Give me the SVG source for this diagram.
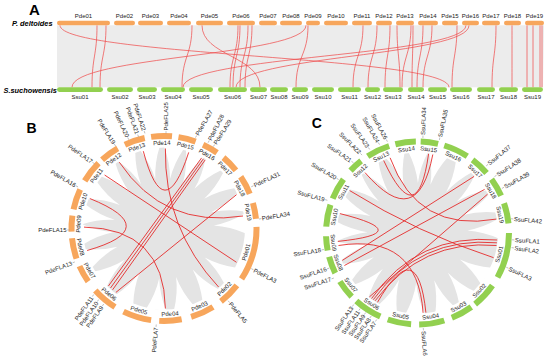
<svg xmlns="http://www.w3.org/2000/svg" xmlns:xlink="http://www.w3.org/1999/xlink" width="550" height="360" viewBox="0 0 550 360">
<style>
text{font-family:"Liberation Sans",Arial,sans-serif;fill:#222}
.lb{font-size:6px;text-anchor:middle}
.g{font-size:6px}
.e{text-anchor:end}
.pl{font-size:14px;font-weight:bold;fill:#000}
.sp{font-size:7.4px;font-weight:bold;font-style:italic;fill:#000}
.bo{fill:#f7a65c}
.bg{fill:#92d050}
.ra{fill:none;stroke:#ef4a4a;stroke-width:0.8;opacity:0.9}
.rl{fill:none;stroke:#e52b2b;stroke-width:0.9}
.ro{fill:none;stroke:#f7a65c;stroke-width:6}
.rg{fill:none;stroke:#92d050;stroke-width:6}
.tk{stroke:#888;stroke-width:0.5}
</style>
<defs>
<path id="wg" d="M-10,-81.5 Q-2,-66 0,-50 Q2,-66 10,-81.5 Z" fill="#fff"/>
</defs>
<rect width="550" height="360" fill="#fff"/>

<!-- Panel A -->
<text class="pl" x="29" y="15" style="font-size:15px">A</text>
<text class="sp" x="12" y="26">P. deltoides</text>
<text class="sp" x="3.5" y="93">S.suchowensis</text>
<polygon points="57,25.3 544,25.3 543,87.3 57,87.3" fill="#ececec"/>
<g id="linksA">
<path class="ra" d="M97,25.3 C97,56 92,56 92,87.3"/>
<path class="ra" d="M106,25.3 C106,56 100,56 100,87.3"/>
<path class="ra" d="M60,25.3 C60,56 449,56 449,87.3"/>
<path class="ra" d="M192,25.3 C192,56 182,56 182,87.3"/>
<path class="ra" d="M202,25.3 C202,56 260,56 260,87.3"/>
<path class="ra" d="M238,25.3 C238,56 230,56 230,87.3"/>
<path class="ra" d="M240,25.3 C240,56 233,56 233,87.3"/>
<path class="ra" d="M248,25.3 C248,56 240,56 240,87.3"/>
<path class="ra" d="M252,25.3 C252,56 245,56 245,87.3"/>
<path class="ra" d="M306,25.3 C306,56 72,56 72,87.3"/>
<path class="ra" d="M308,25.3 C308,56 296,56 296,87.3"/>
<path class="ra" d="M466,25.3 C466,56 183,56 183,87.3"/>
<path class="ra" d="M469,25.3 C469,56 236,56 236,87.3"/>
<path class="ra" d="M363,25.3 C363,56 353,56 353,87.3"/>
<path class="ra" d="M377,25.3 C377,56 368,56 368,87.3"/>
<path class="ra" d="M390,25.3 C390,56 385,56 385,87.3"/>
<path class="ra" d="M397,25.3 C397,56 400,56 400,87.3"/>
<path class="ra" d="M411,25.3 C411,56 402,56 402,87.3"/>
<path class="ra" d="M413,25.3 C413,56 412,56 412,87.3"/>
<path class="ra" d="M423,25.3 C423,56 417,56 417,87.3"/>
<path class="ra" d="M432,25.3 C432,56 423,56 423,87.3"/>
<path class="ra" d="M457,25.3 C457,56 452,56 452,87.3"/>
<path class="ra" d="M496,25.3 C496,56 492,56 492,87.3"/>
<path class="ra" d="M512,25.3 C512,56 512,56 512,87.3"/>
<path class="ra" d="M527,25.3 L527,87.3"/>
<path class="ra" d="M533,25.3 L533,87.3"/>
<path class="ra" d="M540,25.3 L540,87.3"/>
<path class="ra" d="M542,25.3 L542,87.3"/>
</g>
<g id="pde01"><rect class="bo" x="57" y="20.7" width="53" height="4.6" rx="2.3"/><text class="lb" x="83.5" y="18.3">Pde01</text></g>
<g id="pde02"><rect class="bo" x="114" y="20.7" width="21" height="4.6" rx="2.3"/><text class="lb" x="124.5" y="18.3">Pde02</text></g>
<g id="pde03"><rect class="bo" x="138" y="20.7" width="25" height="4.6" rx="2.3"/><text class="lb" x="150.5" y="18.3">Pde03</text></g>
<g id="pde04"><rect class="bo" x="167" y="20.7" width="24" height="4.6" rx="2.3"/><text class="lb" x="179" y="18.3">Pde04</text></g>
<g id="pde05"><rect class="bo" x="196" y="20.7" width="27" height="4.6" rx="2.3"/><text class="lb" x="209.5" y="18.3">Pde05</text></g>
<g id="pde06"><rect class="bo" x="227" y="20.7" width="28" height="4.6" rx="2.3"/><text class="lb" x="241" y="18.3">Pde06</text></g>
<g id="pde07"><rect class="bo" x="259" y="20.7" width="18" height="4.6" rx="2.3"/><text class="lb" x="268" y="18.3">Pde07</text></g>
<g id="pde08"><rect class="bo" x="280" y="20.7" width="22" height="4.6" rx="2.3"/><text class="lb" x="291" y="18.3">Pde08</text></g>
<g id="pde09"><rect class="bo" x="306" y="20.7" width="14" height="4.6" rx="2.3"/><text class="lb" x="313" y="18.3">Pde09</text></g>
<g id="pde10"><rect class="bo" x="324" y="20.7" width="24" height="4.6" rx="2.3"/><text class="lb" x="336" y="18.3">Pde10</text></g>
<g id="pde11"><rect class="bo" x="352" y="20.7" width="20" height="4.6" rx="2.3"/><text class="lb" x="362" y="18.3">Pde11</text></g>
<g id="pde12"><rect class="bo" x="376" y="20.7" width="16" height="4.6" rx="2.3"/><text class="lb" x="384" y="18.3">Pde12</text></g>
<g id="pde13"><rect class="bo" x="396" y="20.7" width="18" height="4.6" rx="2.3"/><text class="lb" x="405" y="18.3">Pde13</text></g>
<g id="pde14"><rect class="bo" x="418" y="20.7" width="20" height="4.6" rx="2.3"/><text class="lb" x="428" y="18.3">Pde14</text></g>
<g id="pde15"><rect class="bo" x="442" y="20.7" width="16" height="4.6" rx="2.3"/><text class="lb" x="450" y="18.3">Pde15</text></g>
<g id="pde16"><rect class="bo" x="462" y="20.7" width="17" height="4.6" rx="2.3"/><text class="lb" x="470.5" y="18.3">Pde16</text></g>
<g id="pde17"><rect class="bo" x="482" y="20.7" width="18" height="4.6" rx="2.3"/><text class="lb" x="491" y="18.3">Pde17</text></g>
<g id="pde18"><rect class="bo" x="504" y="20.7" width="17" height="4.6" rx="2.3"/><text class="lb" x="512.5" y="18.3">Pde18</text></g>
<g id="pde19"><rect class="bo" x="525" y="20.7" width="19" height="4.6" rx="2.3"/><text class="lb" x="534.5" y="18.3">Pde19</text></g>

<g id="ssu01"><rect class="bg" x="57" y="87.3" width="46" height="4.6" rx="2.3"/><text class="lb" x="80" y="98.6">Ssu01</text></g>
<g id="ssu02"><rect class="bg" x="107" y="87.3" width="26" height="4.6" rx="2.3"/><text class="lb" x="120" y="98.6">Ssu02</text></g>
<g id="ssu03"><rect class="bg" x="137" y="87.3" width="20" height="4.6" rx="2.3"/><text class="lb" x="147" y="98.6">Ssu03</text></g>
<g id="ssu04"><rect class="bg" x="161" y="87.3" width="24" height="4.6" rx="2.3"/><text class="lb" x="173" y="98.6">Ssu04</text></g>
<g id="ssu05"><rect class="bg" x="189" y="87.3" width="24" height="4.6" rx="2.3"/><text class="lb" x="201" y="98.6">Ssu05</text></g>
<g id="ssu06"><rect class="bg" x="218" y="87.3" width="29" height="4.6" rx="2.3"/><text class="lb" x="232.5" y="98.6">Ssu06</text></g>
<g id="ssu07"><rect class="bg" x="250" y="87.3" width="17" height="4.6" rx="2.3"/><text class="lb" x="258.5" y="98.6">Ssu07</text></g>
<g id="ssu08"><rect class="bg" x="270" y="87.3" width="18" height="4.6" rx="2.3"/><text class="lb" x="279" y="98.6">Ssu08</text></g>
<g id="ssu09"><rect class="bg" x="292" y="87.3" width="16" height="4.6" rx="2.3"/><text class="lb" x="300" y="98.6">Ssu09</text></g>
<g id="ssu10"><rect class="bg" x="312" y="87.3" width="22" height="4.6" rx="2.3"/><text class="lb" x="323" y="98.6">Ssu10</text></g>
<g id="ssu11"><rect class="bg" x="338" y="87.3" width="23" height="4.6" rx="2.3"/><text class="lb" x="349.5" y="98.6">Ssu11</text></g>
<g id="ssu12"><rect class="bg" x="365" y="87.3" width="15" height="4.6" rx="2.3"/><text class="lb" x="372.5" y="98.6">Ssu12</text></g>
<g id="ssu13"><rect class="bg" x="383" y="87.3" width="20" height="4.6" rx="2.3"/><text class="lb" x="393" y="98.6">Ssu13</text></g>
<g id="ssu14"><rect class="bg" x="408" y="87.3" width="16" height="4.6" rx="2.3"/><text class="lb" x="416" y="98.6">Ssu14</text></g>
<g id="ssu15"><rect class="bg" x="428" y="87.3" width="19" height="4.6" rx="2.3"/><text class="lb" x="437.5" y="98.6">Ssu15</text></g>
<g id="ssu16"><rect class="bg" x="450" y="87.3" width="22" height="4.6" rx="2.3"/><text class="lb" x="461" y="98.6">Ssu16</text></g>
<g id="ssu17"><rect class="bg" x="477" y="87.3" width="18" height="4.6" rx="2.3"/><text class="lb" x="486" y="98.6">Ssu17</text></g>
<g id="ssu18"><rect class="bg" x="499" y="87.3" width="19" height="4.6" rx="2.3"/><text class="lb" x="508.5" y="98.6">Ssu18</text></g>
<g id="ssu19"><rect class="bg" x="522" y="87.3" width="21" height="4.6" rx="2.3"/><text class="lb" x="532.5" y="98.6">Ssu19</text></g>

<!-- Panel B -->
<text class="pl" x="26.5" y="133.3">B</text>
<circle cx="164" cy="228.5" r="81" fill="#e4e4e4"/>
<g transform="translate(164 228.5)">
<use xlink:href="#wg" transform="rotate(86.5)"/><use xlink:href="#wg" transform="rotate(125.5)"/><use xlink:href="#wg" transform="rotate(145)"/><use xlink:href="#wg" transform="rotate(166)"/><use xlink:href="#wg" transform="rotate(185.5)"/><use xlink:href="#wg" transform="rotate(209)"/><use xlink:href="#wg" transform="rotate(231.5)"/><use xlink:href="#wg" transform="rotate(248.5)"/><use xlink:href="#wg" transform="rotate(266)"/><use xlink:href="#wg" transform="rotate(280)"/><use xlink:href="#wg" transform="rotate(298)"/><use xlink:href="#wg" transform="rotate(316.5)"/><use xlink:href="#wg" transform="rotate(332.5)"/><use xlink:href="#wg" transform="rotate(350)"/><use xlink:href="#wg" transform="rotate(7)"/><use xlink:href="#wg" transform="rotate(22.5)"/><use xlink:href="#wg" transform="rotate(37.5)"/><use xlink:href="#wg" transform="rotate(53.5)"/><use xlink:href="#wg" transform="rotate(71)"/>
</g>
<g id="linksB">
<path class="rl" d="M143.3,151.2 Q164,228.5 188.7,152.4"/>
<path class="rl" d="M119.3,162.2 Q164,228.5 243,216"/>
<path class="rl" d="M104.6,175 L236.5,262.3"/>
<path class="rl" d="M89.8,198.5 Q164,228.5 87.1,250.5"/>
<path class="rl" d="M84,227.1 Q164,228.5 165.4,308.5"/>
<path class="rl" d="M165.4,148.5 Q164,228.5 218.6,287"/>
<path class="rl" d="M201.6,157.9 L108.4,286"/>
<path class="rl" d="M203.4,158.9 L110.5,288"/>
<path class="rl" d="M205.2,159.9 L112.6,289.8"/>
<path class="rl" d="M236.5,194.7 L115.9,292.4"/>
</g>
<g id="B-Pde01"><circle class="ro" cx="164" cy="228.5" r="92.5" stroke-dasharray="54.89 600" transform="rotate(-1 164 228.5)"/><text class="lb" dominant-baseline="central" transform="translate(246.2 252.1) rotate(-74)">Pde01</text></g>
<g id="B-Pde02"><circle class="ro" cx="164" cy="228.5" r="92.5" stroke-dasharray="22.6 600" transform="rotate(38 164 228.5)"/><text class="lb" dominant-baseline="central" transform="translate(224.5 288.9) rotate(-45)">Pde02</text></g>
<g id="B-Pde03"><circle class="ro" cx="164" cy="228.5" r="92.5" stroke-dasharray="24.22 600" transform="rotate(58 164 228.5)"/><text class="lb" dominant-baseline="central" transform="translate(199.5 306.3) rotate(-24.5)">Pde03</text></g>
<g id="B-Pde04"><circle class="ro" cx="164" cy="228.5" r="92.5" stroke-dasharray="22.6 600" transform="rotate(79 164 228.5)"/><text class="lb" dominant-baseline="central" transform="translate(170 313.8) rotate(-4)">Pde04</text></g>
<g id="B-Pde05"><circle class="ro" cx="164" cy="228.5" r="92.5" stroke-dasharray="29.06 600" transform="rotate(98 164 228.5)"/><text class="lb" dominant-baseline="central" transform="translate(139 310.3) rotate(17)">Pde05</text></g>
<g id="B-Pde06"><circle class="ro" cx="164" cy="228.5" r="92.5" stroke-dasharray="25.83 600" transform="rotate(122 164 228.5)"/><text class="lb" dominant-baseline="central" transform="translate(109 294) rotate(40)">Pde06</text></g>
<g id="B-Pde07"><circle class="ro" cx="164" cy="228.5" r="92.5" stroke-dasharray="17.76 600" transform="rotate(145 164 228.5)"/><text class="lb" dominant-baseline="central" transform="translate(89.6 270.6) rotate(60.5)">Pde07</text></g>
<g id="B-Pde08"><circle class="ro" cx="164" cy="228.5" r="92.5" stroke-dasharray="20.99 600" transform="rotate(161 164 228.5)"/><text class="lb" dominant-baseline="central" transform="translate(80.5 247) rotate(77.5)">Pde08</text></g>
<g id="B-Pde09"><circle class="ro" cx="164" cy="228.5" r="92.5" stroke-dasharray="16.14 600" transform="rotate(178 164 228.5)"/><text class="lb" dominant-baseline="central" transform="translate(78.6 224) rotate(-87)">Pde09</text></g>
<g id="B-Pde10"><circle class="ro" cx="164" cy="228.5" r="92.5" stroke-dasharray="20.99 600" transform="rotate(192 164 228.5)"/><text class="lb" dominant-baseline="central" transform="translate(83 201.4) rotate(-71.5)">Pde10</text></g>
<g id="B-Pde11"><circle class="ro" cx="164" cy="228.5" r="92.5" stroke-dasharray="22.6 600" transform="rotate(211 164 228.5)"/><text class="lb" dominant-baseline="central" transform="translate(96.6 175.9) rotate(-52)">Pde11</text></g>
<g id="B-Pde12"><circle class="ro" cx="164" cy="228.5" r="92.5" stroke-dasharray="19.37 600" transform="rotate(228 164 228.5)"/><text class="lb" dominant-baseline="central" transform="translate(113.7 159.3) rotate(-36)">Pde12</text></g>
<g id="B-Pde13"><circle class="ro" cx="164" cy="228.5" r="92.5" stroke-dasharray="20.99 600" transform="rotate(245 164 228.5)"/><text class="lb" dominant-baseline="central" transform="translate(136.9 147.4) rotate(-18.5)">Pde13</text></g>
<g id="B-Pde14"><circle class="ro" cx="164" cy="228.5" r="92.5" stroke-dasharray="20.99 600" transform="rotate(262 164 228.5)"/><text class="lb" dominant-baseline="central" transform="translate(161.8 143) rotate(-1.5)">Pde14</text></g>
<g id="B-Pde15"><circle class="ro" cx="164" cy="228.5" r="92.5" stroke-dasharray="17.76 600" transform="rotate(-81 164 228.5)"/><text class="lb" dominant-baseline="central" transform="translate(185.4 145.7) rotate(14.5)">Pde15</text></g>
<g id="B-Pde16"><circle class="ro" cx="164" cy="228.5" r="92.5" stroke-dasharray="16.14 600" transform="rotate(-65 164 228.5)"/><text class="lb" dominant-baseline="central" transform="translate(206.8 154.5) rotate(30)">Pde16</text></g>
<g id="B-Pde17"><circle class="ro" cx="164" cy="228.5" r="92.5" stroke-dasharray="17.76 600" transform="rotate(-50 164 228.5)"/><text class="lb" dominant-baseline="central" transform="translate(225 168.6) rotate(45.5)">Pde17</text></g>
<g id="B-Pde18"><circle class="ro" cx="164" cy="228.5" r="92.5" stroke-dasharray="19.37 600" transform="rotate(-34 164 228.5)"/><text class="lb" dominant-baseline="central" transform="translate(239.5 188.4) rotate(62)">Pde18</text></g>
<g id="B-Pde19"><circle class="ro" cx="164" cy="228.5" r="92.5" stroke-dasharray="16.14 600" transform="rotate(-16 164 228.5)"/><text class="lb" dominant-baseline="central" transform="translate(248 212.2) rotate(79)">Pde19</text></g>

<g id="genesB">
<g transform="translate(166 130.5) rotate(-90)"><line class="tk" x1="-3" x2="-0.6"/><text class="g" dy="2.1">PdeFLA25</text></g>
<g transform="translate(197 135) rotate(-60)"><line class="tk" x1="-3" x2="-0.6"/><text class="g" dy="2.1">PdeFLA27</text></g>
<g transform="translate(209.5 140) rotate(-63)"><line class="tk" x1="-3" x2="-0.6"/><text class="g" dy="2.1">PdeFLA28</text></g>
<g transform="translate(215 144) rotate(-58)"><line class="tk" x1="-3" x2="-0.6"/><text class="g" dy="2.1">PdeFLA29</text></g>
<g transform="translate(254 185.5) rotate(-25)"><line class="tk" x1="-3" x2="-0.6"/><text class="g" dy="2.1">PdeFLA31</text></g>
<g transform="translate(262 218.5) rotate(-10)"><line class="tk" x1="-3" x2="-0.6"/><text class="g" dy="2.1">PdeFLA34</text></g>
<g transform="translate(254 270) rotate(27)"><line class="tk" x1="-3" x2="-0.6"/><text class="g" dy="2.1">PdeFLA3</text></g>
<g transform="translate(230 303) rotate(50)"><line class="tk" x1="-3" x2="-0.6"/><text class="g" dy="2.1">PdeFLA5</text></g>
<g transform="translate(156 327.5) rotate(-85)"><line class="tk" x1="0.6" x2="3"/><text class="g e" dy="2.1">PdeFLA7</text></g>
<g transform="translate(102 306.5) rotate(-55)"><line class="tk" x1="0.6" x2="3"/><text class="g e" dy="2.1">PdeFLA9</text></g>
<g transform="translate(97 302) rotate(-55)"><line class="tk" x1="0.6" x2="3"/><text class="g e" dy="2.1">PdeFLA10</text></g>
<g transform="translate(92 297) rotate(-55)"><line class="tk" x1="0.6" x2="3"/><text class="g e" dy="2.1">PdeFLA11</text></g>
<g transform="translate(72 263) rotate(-20)"><line class="tk" x1="0.6" x2="3"/><text class="g e" dy="2.1">PdeFLA13</text></g>
<g transform="translate(66.5 230) rotate(0)"><line class="tk" x1="0.6" x2="3"/><text class="g e" dy="2.1">PdeFLA15</text></g>
<g transform="translate(75.5 185.5) rotate(30)"><line class="tk" x1="0.6" x2="3"/><text class="g e" dy="2.1">PdeFLA16</text></g>
<g transform="translate(92 162) rotate(35)"><line class="tk" x1="0.6" x2="3"/><text class="g e" dy="2.1">PdeFLA17</text></g>
<g transform="translate(114 143.5) rotate(58)"><line class="tk" x1="0.6" x2="3"/><text class="g e" dy="2.1">PdeFLA19</text></g>
<g transform="translate(127.5 137) rotate(65)"><line class="tk" x1="0.6" x2="3"/><text class="g e" dy="2.1">PdeFLA20</text></g>
<g transform="translate(137.5 134) rotate(70)"><line class="tk" x1="0.6" x2="3"/><text class="g e" dy="2.1">PdeFLA21</text></g>
<g transform="translate(144 130.5) rotate(72)"><line class="tk" x1="0.6" x2="3"/><text class="g e" dy="2.1">PdeFLA22</text></g>
</g>

<!-- Panel C -->
<text class="pl" x="311.7" y="128.3">C</text>
<circle cx="417.5" cy="233" r="80.5" fill="#e4e4e4"/>
<g transform="translate(417.5 233)">
<use xlink:href="#wg" transform="rotate(87)"/><use xlink:href="#wg" transform="rotate(122)"/><use xlink:href="#wg" transform="rotate(142.5)"/><use xlink:href="#wg" transform="rotate(160.5)"/><use xlink:href="#wg" transform="rotate(181.5)"/><use xlink:href="#wg" transform="rotate(201.5)"/><use xlink:href="#wg" transform="rotate(224)"/><use xlink:href="#wg" transform="rotate(241)"/><use xlink:href="#wg" transform="rotate(257)"/><use xlink:href="#wg" transform="rotate(271)"/><use xlink:href="#wg" transform="rotate(290)"/><use xlink:href="#wg" transform="rotate(309.5)"/><use xlink:href="#wg" transform="rotate(324.5)"/><use xlink:href="#wg" transform="rotate(344)"/><use xlink:href="#wg" transform="rotate(0.5)"/><use xlink:href="#wg" transform="rotate(15)"/><use xlink:href="#wg" transform="rotate(35)"/><use xlink:href="#wg" transform="rotate(51.5)"/><use xlink:href="#wg" transform="rotate(68.5)"/>
</g>
<g id="linksC">
<path class="rl" d="M365,172.6 Q417.5,233 432.8,154.5"/>
<path class="rl" d="M383.7,160.5 Q417.5,233 428.6,153.8"/>
<path class="rl" d="M390.1,157.8 Q417.5,233 496.3,219.1"/>
<path class="rl" d="M349.7,190.6 Q417.5,233 493.6,257.7"/>
<path class="rl" d="M339.9,213.6 Q417.5,233 337.9,241.4"/>
<path class="rl" d="M338.5,245.5 Q417.5,233 423.1,312.8"/>
<path class="rl" d="M342.3,260.4 L474.1,176.4"/>
<path class="rl" d="M344.4,265.5 L484.6,189.4"/>
<path class="rl" d="M369.4,296.9 L487.5,194.2"/>
<path class="rl" d="M371.6,298.5 Q417.5,233 497.2,240"/>
<path class="rl" d="M373.3,299.7 Q419.5,236 496.9,242.8"/>
<path class="rl" d="M375.1,300.8 Q421.5,239 496.5,245.5"/>
<path class="rl" d="M377.5,302.3 Q417.5,233 425.9,312.6"/>
</g>
<g id="C-Ssu01"><circle class="rg" cx="417.5" cy="233" r="91.5" stroke-dasharray="46.31 600" transform="rotate(0 417.5 233)"/><text class="lb" dominant-baseline="central" transform="translate(499.3 254.2) rotate(-75.5)">Ssu01</text></g>
<g id="C-Ssu02"><circle class="rg" cx="417.5" cy="233" r="91.5" stroke-dasharray="25.55 600" transform="rotate(35 417.5 233)"/><text class="lb" dominant-baseline="central" transform="translate(479.3 290.6) rotate(-47)">Ssu02</text></g>
<g id="C-Ssu03"><circle class="rg" cx="417.5" cy="233" r="91.5" stroke-dasharray="22.36 600" transform="rotate(54 417.5 233)"/><text class="lb" dominant-baseline="central" transform="translate(458.5 306.9) rotate(-29)">Ssu03</text></g>
<g id="C-Ssu04"><circle class="rg" cx="417.5" cy="233" r="91.5" stroke-dasharray="25.55 600" transform="rotate(73 417.5 233)"/><text class="lb" dominant-baseline="central" transform="translate(430.7 316.5) rotate(-9)">Ssu04</text></g>
<g id="C-Ssu05"><circle class="rg" cx="417.5" cy="233" r="91.5" stroke-dasharray="23.96 600" transform="rotate(94 417.5 233)"/><text class="lb" dominant-baseline="central" transform="translate(400.7 315.8) rotate(11.5)">Ssu05</text></g>
<g id="C-Ssu06"><circle class="rg" cx="417.5" cy="233" r="91.5" stroke-dasharray="28.75 600" transform="rotate(114 417.5 233)"/><text class="lb" dominant-baseline="central" transform="translate(371.5 303.9) rotate(33)">Ssu06</text></g>
<g id="C-Ssu07"><circle class="rg" cx="417.5" cy="233" r="91.5" stroke-dasharray="19.16 600" transform="rotate(136 417.5 233)"/><text class="lb" dominant-baseline="central" transform="translate(350.9 285) rotate(52)">Ssu07</text></g>
<g id="C-Ssu08"><circle class="rg" cx="417.5" cy="233" r="91.5" stroke-dasharray="17.57 600" transform="rotate(154 417.5 233)"/><text class="lb" dominant-baseline="central" transform="translate(338.3 262.6) rotate(69.5)">Ssu08</text></g>
<g id="C-Ssu09"><circle class="rg" cx="417.5" cy="233" r="91.5" stroke-dasharray="14.37 600" transform="rotate(169 417.5 233)"/><text class="lb" dominant-baseline="central" transform="translate(333.5 242.6) rotate(83.5)">Ssu09</text></g>
<g id="C-Ssu10"><circle class="rg" cx="417.5" cy="233" r="91.5" stroke-dasharray="22.36 600" transform="rotate(184 417.5 233)"/><text class="lb" dominant-baseline="central" transform="translate(334.5 216.9) rotate(-79)">Ssu10</text></g>
<g id="C-Ssu11"><circle class="rg" cx="417.5" cy="233" r="91.5" stroke-dasharray="22.36 600" transform="rotate(202 417.5 233)"/><text class="lb" dominant-baseline="central" transform="translate(343.6 192) rotate(-61)">Ssu11</text></g>
<g id="C-Ssu12"><circle class="rg" cx="417.5" cy="233" r="91.5" stroke-dasharray="14.37 600" transform="rotate(223 417.5 233)"/><text class="lb" dominant-baseline="central" transform="translate(360.4 170.7) rotate(-42.5)">Ssu12</text></g>
<g id="C-Ssu13"><circle class="rg" cx="417.5" cy="233" r="91.5" stroke-dasharray="23.96 600" transform="rotate(237 417.5 233)"/><text class="lb" dominant-baseline="central" transform="translate(381.1 156.7) rotate(-25.5)">Ssu13</text></g>
<g id="C-Ssu14"><circle class="rg" cx="417.5" cy="233" r="91.5" stroke-dasharray="20.76 600" transform="rotate(256 417.5 233)"/><text class="lb" dominant-baseline="central" transform="translate(406.4 149.3) rotate(-7.5)">Ssu14</text></g>
<g id="C-Ssu15"><circle class="rg" cx="417.5" cy="233" r="91.5" stroke-dasharray="17.57 600" transform="rotate(-88 417.5 233)"/><text class="lb" dominant-baseline="central" transform="translate(428.6 149.3) rotate(7.5)">Ssu15</text></g>
<g id="C-Ssu16"><circle class="rg" cx="417.5" cy="233" r="91.5" stroke-dasharray="25.55 600" transform="rotate(-73 417.5 233)"/><text class="lb" dominant-baseline="central" transform="translate(453.2 156.4) rotate(25)">Ssu16</text></g>
<g id="C-Ssu17"><circle class="rg" cx="417.5" cy="233" r="91.5" stroke-dasharray="19.16 600" transform="rotate(-53 417.5 233)"/><text class="lb" dominant-baseline="central" transform="translate(475.1 171.2) rotate(43)">Ssu17</text></g>
<g id="C-Ssu18"><circle class="rg" cx="417.5" cy="233" r="91.5" stroke-dasharray="19.16 600" transform="rotate(-36 417.5 233)"/><text class="lb" dominant-baseline="central" transform="translate(490.7 190.8) rotate(60)">Ssu18</text></g>
<g id="C-Ssu19"><circle class="rg" cx="417.5" cy="233" r="91.5" stroke-dasharray="20.76 600" transform="rotate(-19 417.5 233)"/><text class="lb" dominant-baseline="central" transform="translate(500 214.7) rotate(77.5)">Ssu19</text></g>

<g id="genesC">
<g transform="translate(423 135) rotate(-88)"><line class="tk" x1="-3" x2="-0.6"/><text class="g" dy="2.1">SsuFLA34</text></g>
<g transform="translate(440 137) rotate(-78)"><line class="tk" x1="-3" x2="-0.6"/><text class="g" dy="2.1">SsuFLA35</text></g>
<g transform="translate(488.5 164) rotate(-40)"><line class="tk" x1="-3" x2="-0.6"/><text class="g" dy="2.1">SsuFLA37</text></g>
<g transform="translate(497 175) rotate(-33)"><line class="tk" x1="-3" x2="-0.6"/><text class="g" dy="2.1">SsuFLA38</text></g>
<g transform="translate(504.5 187) rotate(-29)"><line class="tk" x1="-3" x2="-0.6"/><text class="g" dy="2.1">SsuFLA39</text></g>
<g transform="translate(514 219) rotate(5)"><line class="tk" x1="-3" x2="-0.6"/><text class="g" dy="2.1">SsuFLA42</text></g>
<g transform="translate(515 240) rotate(4)"><line class="tk" x1="-3" x2="-0.6"/><text class="g" dy="2.1">SsuFLA1</text></g>
<g transform="translate(514.5 248) rotate(8)"><line class="tk" x1="-3" x2="-0.6"/><text class="g" dy="2.1">SsuFLA2</text></g>
<g transform="translate(509 268.5) rotate(25)"><line class="tk" x1="-3" x2="-0.6"/><text class="g" dy="2.1">SsuFLA3</text></g>
<g transform="translate(423.5 331) rotate(86)"><line class="tk" x1="-3" x2="-0.6"/><text class="g" dy="2.1">SsuFLA6</text></g>
<g transform="translate(352 307) rotate(-55)"><line class="tk" x1="0.6" x2="3"/><text class="g e" dy="2.1">SsuFLA13</text></g>
<g transform="translate(358.5 311) rotate(-55)"><line class="tk" x1="0.6" x2="3"/><text class="g e" dy="2.1">SsuFLA11</text></g>
<g transform="translate(364 315) rotate(-55)"><line class="tk" x1="0.6" x2="3"/><text class="g e" dy="2.1">SsuFLA9</text></g>
<g transform="translate(369.5 318.5) rotate(-55)"><line class="tk" x1="0.6" x2="3"/><text class="g e" dy="2.1">SsuFLA8</text></g>
<g transform="translate(375 322) rotate(-55)"><line class="tk" x1="0.6" x2="3"/><text class="g e" dy="2.1">SsuFLA7</text></g>
<g transform="translate(331 279) rotate(-18)"><line class="tk" x1="0.6" x2="3"/><text class="g e" dy="2.1">SsuFLA17</text></g>
<g transform="translate(326.5 269) rotate(-18)"><line class="tk" x1="0.6" x2="3"/><text class="g e" dy="2.1">SsuFLA16</text></g>
<g transform="translate(321 250) rotate(-9)"><line class="tk" x1="0.6" x2="3"/><text class="g e" dy="2.1">SsuFLA18</text></g>
<g transform="translate(324.5 199.5) rotate(15)"><line class="tk" x1="0.6" x2="3"/><text class="g e" dy="2.1">SsuFLA19</text></g>
<g transform="translate(336 178) rotate(30)"><line class="tk" x1="0.6" x2="3"/><text class="g e" dy="2.1">SsuFLA20</text></g>
<g transform="translate(351 161) rotate(35)"><line class="tk" x1="0.6" x2="3"/><text class="g e" dy="2.1">SsuFLA21</text></g>
<g transform="translate(360 153) rotate(45)"><line class="tk" x1="0.6" x2="3"/><text class="g e" dy="2.1">SsuFLA22</text></g>
<g transform="translate(368 147) rotate(55)"><line class="tk" x1="0.6" x2="3"/><text class="g e" dy="2.1">SsuFLA23</text></g>
<g transform="translate(378 142) rotate(60)"><line class="tk" x1="0.6" x2="3"/><text class="g e" dy="2.1">SsuFLA24</text></g>
<g transform="translate(386 139) rotate(62)"><line class="tk" x1="0.6" x2="3"/><text class="g e" dy="2.1">SsuFLA26</text></g>
</g>
</svg>
